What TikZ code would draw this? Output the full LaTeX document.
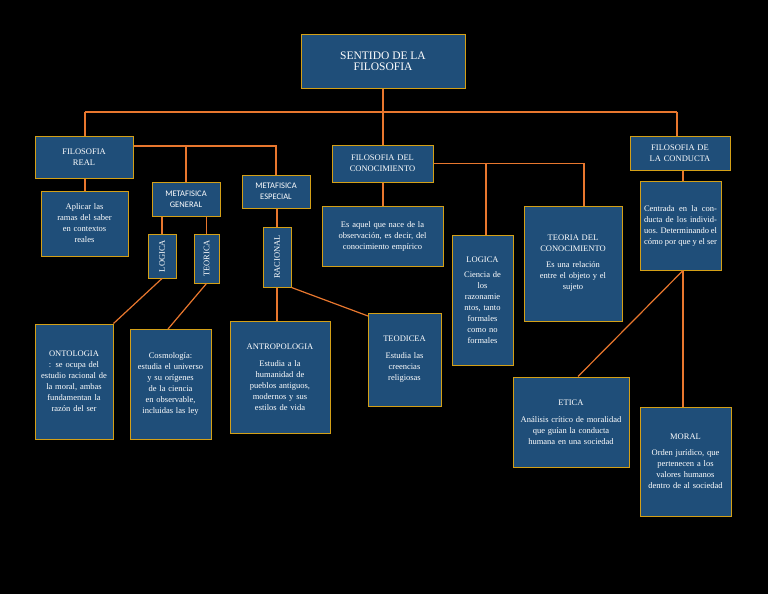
\documentclass[tikz,border=0pt]{standalone}
\usepackage{fontspec}
\setmainfont{Liberation Serif}
\newfontfamily\carl{Carlito}
\definecolor{bx}{HTML}{1F4E79}
\definecolor{bd}{HTML}{D4A017}
\definecolor{ln}{HTML}{E8772E}
\begin{document}
\begin{tikzpicture}[x=1pt,y=-1pt,
 bxs/.style={draw=bd,fill=bx,line width=1pt,text=white,inner sep=2pt,align=center,font=\fontsize{8.5}{11}\selectfont},
 cn/.style={draw=ln,line width=1.2pt}]
\fill[black] (0,0) rectangle (768,594);
\newcommand\bb[6]{\node[bxs,minimum width=#4-#2,minimum height=#5-#3,text width=#4-#2-6] (#1) at ({(#2+#4)/2},{(#3+#5)/2}) {#6};}
\bb{title}{301}{35}{465}{88}{\fontsize{11.5}{14}\selectfont SENTIDO DE LA\\FILOSOFIA}
\bb{freal}{35}{136}{133}{178}{FILOSOFIA\\REAL}
\bb{aplicar}{41}{191}{128}{256}{Aplicar las\\ramas del saber\\en contextos\\reales}
\bb{mgen}{152}{182}{220}{216}{\carl METAFISICA\\GENERAL}
\bb{mesp}{242}{175}{310}{208}{\carl METAFISICA\\ESPECIAL}
\node[bxs,minimum width=28,minimum height=44] (logv) at (162,256) {\rotatebox{90}{LOGICA}};
\node[bxs,minimum width=25,minimum height=49] (teov) at (206.5,258.5) {\rotatebox{90}{TEORICA}};
\node[bxs,minimum width=28,minimum height=60] (racv) at (277,257) {\rotatebox{90}{RACIONAL}};
\bb{onto}{35}{324}{113}{439}{ONTOLOGIA\\: se ocupa del estudio racional de la moral, ambas fundamentan la razón del ser}
\bb{cosmo}{130}{329}{211}{439}{Cosmología: estudia el universo y su orígenes de la ciencia en observable, incluidas las ley}
\bb{antro}{230}{321}{330}{433}{ANTROPOLOGIA\\[6pt]Estudia a la\\humanidad de\\pueblos antiguos,\\modernos y sus\\estilos de vida}
\bb{teod}{368}{313}{441}{406}{TEODICEA\\[6pt]Estudia las\\creencias\\religiosas}
\bb{fcon}{332}{145}{433}{182}{FILOSOFIA DEL\\CONOCIMIENTO}
\bb{esaq}{322}{206}{443}{266}{Es aquel que nace de la observación, es decir, del conocimiento empírico}
\bb{logica}{452}{235}{513}{365}{LOGICA\\[4pt]Ciencia de\\los\\razonamie\\ntos, tanto\\formales\\como no\\formales}
\bb{teoria}{524}{206}{622}{321}{TEORIA DEL\\CONOCIMIENTO\\[5pt]Es una relación\\entre el objeto y el\\sujeto}
\bb{fcond}{630}{136}{730}{170}{FILOSOFIA DE\\LA CONDUCTA}
\node[bxs,minimum width=81,minimum height=89,text width=73,align=justify] (centr) at (680.5,225.5) {Centrada en la conducta de los individuos. Determinando el cómo por que y el ser};
\bb{etica}{513}{377}{629}{467}{ETICA\\[6pt]Análisis crítico de moralidad que guían la conducta humana en una sociedad}
\bb{moral}{640}{407}{731}{516}{MORAL\\[5pt]Orden jurídico, que pertenecen a los valores humanos dentro de al sociedad}
% connectors
\coordinate (t1) at (383,112);
\draw[cn] (title.south -| t1) -- (t1);
\draw[cn] (85,112) -- (677,112);
\draw[cn] (85,112) -- (freal.north -| 85,0);
\draw[cn] (t1) -- (fcon.north -| t1);
\draw[cn] (677,112) -- (fcond.north -| 677,0);
\draw[cn] (freal.east |- 0,146) -- (276,146) -- (mesp.north -| 276,0);
\draw[cn] (186,146) -- (mgen.north -| 186,0);
\draw[cn] (freal.south -| 85,0) -- (aplicar.north -| 85,0);
\draw[cn] (mgen.south -| logv) -- (logv.north);
\draw[cn] (mgen.south -| teov) -- (teov.north);
\draw[cn] (mesp.south -| racv) -- (racv.north);
\draw[cn] (logv.south) -- (onto.north east);
\draw[cn] (teov.south) -- (168,329);
\draw[cn] (racv.south) -- (antro.north -| racv);
\draw[cn] (racv.south east) -- (368,316);
\draw[cn] (fcon.east) -- (584,163.5) -- (teoria.north -| 584,0);
\draw[cn] (486,163.5) -- (logica.north -| 486,0);
\draw[cn] (fcon.south -| 383,0) -- (esaq.north -| 383,0);
\draw[cn] (fcond.south -| 683,0) -- (centr.north -| 683,0);
\draw[cn] (centr.south -| 683,0) -- (etica.north -| 578,0);
\draw[cn] (centr.south -| 683,0) -- (moral.north -| 683,0);
\end{tikzpicture}
\end{document}
